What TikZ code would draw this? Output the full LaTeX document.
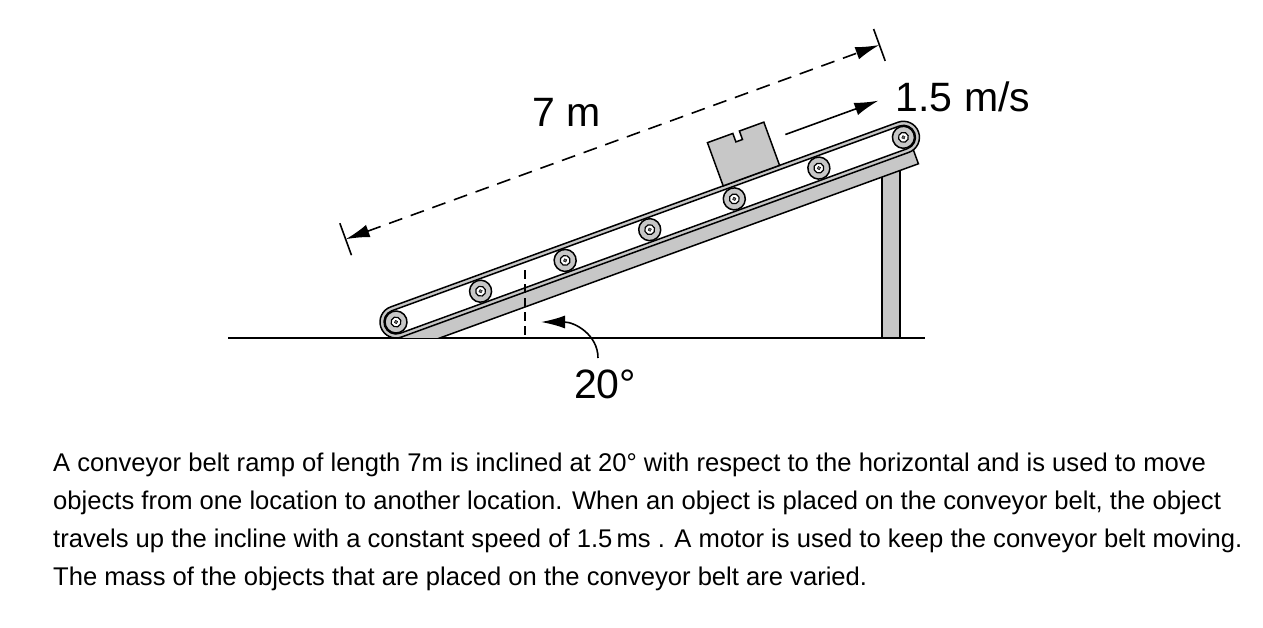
\documentclass[tikz,border=0pt]{standalone}
\usepackage{fontspec}
\setmainfont{Liberation Sans}
\usetikzlibrary{arrows.meta}
\tikzset{
  beltgray/.style={fill=black!22},
  lbl/.style={font=\fontsize{41}{46}\selectfont, inner sep=0pt},
  para/.style={font=\fontsize{25.6}{30}\selectfont, anchor=base west, inner sep=0pt},
  dim/.style={dash pattern=on 14pt off 9pt, line width=1.6pt},
  tipA/.style={-{Latex[length=24pt,width=13pt]}},
}
\begin{document}
\begin{tikzpicture}[x=1pt,y=-1pt]
\useasboundingbox (0,0) rectangle (1263,627);
% ground
\draw[line width=1.8pt] (228,338) -- (925,338);
% post
\draw[beltgray, line width=1.5pt] (882,170) rectangle (900,338);
% support strip (clipped at ground)
\begin{scope}
\clip (0,0) rectangle (1263,337);
\begin{scope}[shift={(396,322)}, rotate=20]
\draw[beltgray, line width=1.5pt] (0,15) -- (545,15) -- (545,30) -- (0,30) -- cycle;
\end{scope}
\end{scope}
\begin{scope}[shift={(396,322)}, rotate=20]
% belt
\draw[beltgray, line width=1.5pt, rounded corners=16pt] (-16,-16) rectangle (556,16);
\draw[fill=white, line width=1.5pt, rounded corners=12pt] (-12,-12) rectangle (552,12);
% pulleys and rollers
\foreach \px [count=\i] in {0,90,180,270,360,450,540}{
  \draw[beltgray, line width=1.5pt] (\px,0) circle (11);
  \draw[fill=white, line width=1.2pt] (\px,0) circle (5);
  \draw[fill=black!60] (\px,0) circle (1.8);
  \coordinate (r\i) at (\px,0);
}
% box
\draw[beltgray, line width=1.5pt] (354,-16) -- (414,-16) -- (414,-62) -- (388,-62) -- (388,-53) -- (381,-53) -- (381,-62) -- (354,-62) -- cycle;
% dimension
\coordinate (d1) at (-19,-95);
\coordinate (d2) at (549,-95);
\draw[dim, {Latex[length=24pt,width=13pt]}-{Latex[length=24pt,width=13pt]}] (d1) -- (d2);
\draw[line width=1.6pt] (-19,-78) -- (-19,-112);
\draw[line width=1.6pt] (549,-78) -- (549,-112);
% speed arrow
\coordinate (s1) at (430,-43);
\coordinate (s2) at (529,-43);
\draw[line width=1.6pt, tipA] (s1) -- (s2);
\end{scope}
% angle
\coordinate (v1) at (525,270);
\coordinate (v2) at (525,338);
\draw[line width=1.8pt, dash pattern=on 9pt off 5pt] (v1) -- (v2);
\coordinate (a1) at (598,358);
\coordinate (a2) at (541,322);
\draw[line width=1.6pt, tipA] (a1) .. controls (598,335) and (575,322) .. (a2);
% labels
\node[lbl] (l7) at (567,112) {7 m};
\node[lbl] (lv) at (963,97) {1.5 m/s};
\node[lbl] (la) at (605,384) {20°};
% paragraph
\node[para] (p1) at (53,471) {A conveyor belt ramp of length 7m is inclined at 20° with respect to the horizontal and is used to move};
\node[para] (p2) at (53,509) {objects from one location to another location. When an object is placed on the conveyor belt, the object};
\node[para] (p3) at (53,547) {travels up the incline with a constant speed of 1.5\,ms\ . A motor is used to keep the conveyor belt moving.};
\node[para] (p4) at (53,585) {The mass of the objects that are placed on the conveyor belt are varied.};
\end{tikzpicture}
\end{document}
